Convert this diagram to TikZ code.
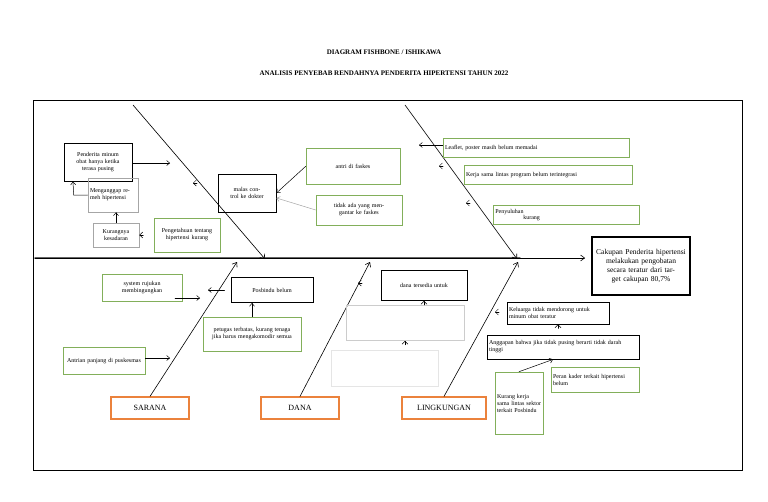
\documentclass[tikz,border=0pt]{standalone}
\usepackage{fontspec}
\setmainfont{Liberation Serif}
\usetikzlibrary{arrows.meta}
\definecolor{gbox}{RGB}{130,175,90}
\definecolor{obox}{RGB}{235,130,60}
\begin{document}
\begin{tikzpicture}[x=1pt,y=-1pt,line cap=round,
  bx/.style={draw,line width=0.6pt,align=center,font=\fontsize{6}{7}\selectfont,inner sep=2pt},
  blk/.style={bx,black,line width=0.9pt,text=black},
  grn/.style={bx,draw=gbox,text=black},
  gry/.style={bx,draw=black!35,text=black},
  cat/.style={draw=obox,line width=1.2pt,font=\fontsize{8}{9}\selectfont,minimum width=78pt,minimum height=22pt},
  bone/.style={draw,line width=0.6pt,-{Straight Barb[length=4pt,width=6pt]}},
  arr/.style={-{Straight Barb[length=3pt,width=5pt]},line width=0.5pt},
  tick/.style={-{Straight Barb[length=3pt,width=6pt]},line width=0.5pt}]
\useasboundingbox (0,0) rectangle (768,501);
\fill[white] (0,0) rectangle (768,501);
\node[font=\bfseries\fontsize{7}{8}\selectfont] (t1) at (384,52) {DIAGRAM FISHBONE / ISHIKAWA};
\node[font=\bfseries\fontsize{7}{8}\selectfont] (t2) at (384,73) {ANALISIS PENYEBAB RENDAHNYA PENDERITA HIPERTENSI TAHUN 2022};
\draw[line width=0.6pt] (33,100) rectangle (742,470);
% head and spine
\node[blk,line width=1.2pt,text width=94pt,minimum height=58pt,font=\fontsize{7.5}{9}\selectfont] (head) at (641,266) {Cakupan Penderita hipertensi melakukan pengobatan secara teratur dari target cakupan 80,7\%};
\coordinate (s0) at (35,258);
\coordinate (s1) at (585,258);
\draw[line width=1.4pt,black!60] (s0) -- (520,258);
\draw[bone] (s0) -- (s1);
% upper bones
\coordinate (u1a) at (133,105); \coordinate (u1b) at (265,259);
\coordinate (u2a) at (405,105); \coordinate (u2b) at (517,259);
\draw[bone] (u1a) -- (u1b);
\draw[bone] (u2a) -- (u2b);
% lower bones
\node[cat] (sar) at (150,408) {SARANA};
\node[cat] (dan) at (300,408) {DANA};
\node[cat,minimum width=84pt] (lin) at (444,408) {LINGKUNGAN};
\draw[bone] (sar.north) -- (237,262);
\draw[bone] (dan.north) -- (370,262);
\draw[bone] (lin.north) -- (518,262);
% upper-left causes
\node[blk,text width=64pt,minimum height=38pt] (p1) at (98,162) {Penderita minum obat hanya ketika terasa pusing};
\node[gry,text width=46pt,minimum height=34pt,align=left] (p2) at (113,195) {Menganggap remeh hipertensi};
\node[gry,text width=42pt,minimum height=24pt] (p3) at (116,235) {Kurangnya kesadaran};
\node[grn,text width=62pt,minimum height=34pt] (p4) at (187,235) {Pengetahuan tentang hipertensi kurang};
\node[blk,text width=54pt,minimum height=38pt] (p5) at (247,193) {malas control ke dokter};
\node[grn,text width=86pt,minimum height=36pt,anchor=north,inner sep=4pt] (p6) at (353,148) {antri di faskes\\[14pt]};
\node[grn,text width=82pt,minimum height=30pt] (p7) at (359,210) {tidak ada yang mengantar ke faskes};
\coordinate (m1) at (170,163);
\draw[arr] (p1.east |- m1) -- (m1);
\draw[arr] (p2.west) -- ++(-14,0) -- ([xshift=-25pt]p1.south);
\draw[arr] (p3.north) -- (p2.south -| p3.north);
\draw[tick] ([xshift=4pt]p3.east) -- (p3.east);
\coordinate (m2) at (193,183);
\draw[tick] ([xshift=4pt]m2) -- (m2);
\draw[arr] (p6.west) -- (p5.east);
\draw[arr,black!35] (p7.west) -- ([yshift=-5pt]p5.east);
% upper-right causes
\node[grn,text width=182pt,minimum height=19pt,align=left] (q1) at (536,148) {Leaflet, poster masih belum memadai};
\node[grn,text width=164pt,minimum height=19pt,align=left] (q2) at (548,175) {Kerja sama lintas program belum terintegrasi};
\node[grn,text width=142pt,minimum height=19pt,align=left,anchor=north west] (q3) at (493,205) {Penyuluhan\\[-1pt]\hspace*{28pt}kurang};
\coordinate (m3) at (419,145);
\draw[arr] (q1.west |- m3) -- (m3);
\coordinate (m4) at (439,166);
\draw[tick] ([xshift=4pt]m4) -- (m4);
\coordinate (m5) at (466,203);
\draw[tick] ([xshift=4pt]m5) -- (m5);
% lower causes
\node[grn,text width=76pt,minimum height=27pt] (r1) at (142,288) {system rujukan membingungkan};
\node[blk,text width=78pt,minimum height=25pt,anchor=north] (r2) at (272,277) {Posbindu belum\\[8pt]};
\node[grn,text width=94pt,minimum height=34pt] (r3) at (252,334) {petugas terbatas, kurang tenaga jika harus mengakomodir semua};
\node[grn,text width=78pt,minimum height=27pt] (r4) at (104,361) {Antrian panjang di puskesmas};
\coordinate (m6) at (200,298);
\draw[arr] (175,298) -- (m6);
\coordinate (m7) at (208,290);
\draw[arr] (r2.west |- m7) ++(-6,0) -- (m7);
\draw[arr] (r3.north) -- (r2.south -| r3.north);
\coordinate (m8) at (170,358);
\draw[arr] (r4.east |- m8) -- (m8);
\node[blk,text width=82pt,minimum height=30pt,anchor=north] (d1) at (424,270) {dana tersedia untuk\\[12pt]};
\node[gry,draw=black!20,minimum width=118pt,minimum height=35pt] (d2) at (405,323) {};
\node[gry,draw=black!10,minimum width=107pt,minimum height=36pt] (d3) at (385,368) {};
\draw[tick] ([yshift=-4pt]d1.south) -- (d1.south);
\draw[tick] ([yshift=-4pt]d2.south) -- (d2.south);
\coordinate (m9) at (358,283);
\draw[tick] ([xshift=4pt]m9) -- (m9);
\node[blk,text width=98pt,minimum height=22pt,align=left] (l1) at (558,313) {Keluarga tidak mendorong untuk minum obat teratur};
\node[blk,text width=148pt,minimum height=24pt,align=left] (l2) at (563,347) {Anggapan bahwa jika tidak pusing berarti tidak darah tinggi};
\node[grn,text width=44pt,minimum height=62pt,align=left] (l3) at (519,403) {Kurang kerja sama lintas sektor terkait Posbindu};
\node[grn,text width=84pt,minimum height=25pt,align=left] (l4) at (595,380) {Peran kader terkait hipertensi belum};
\draw[tick] ([yshift=-4pt]l1.south) -- (l1.south);
\draw[arr] (l3.north) -- ([xshift=-10pt]l2.south);
\coordinate (m10) at (495,312);
\draw[tick] ([xshift=4pt]m10) -- (m10);
\end{tikzpicture}
\end{document}
